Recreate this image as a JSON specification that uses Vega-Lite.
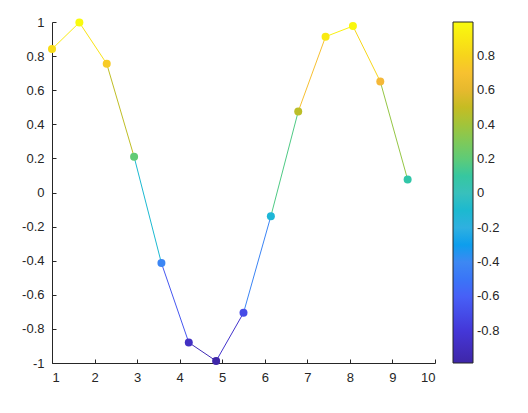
{
  "$schema": "https://vega.github.io/schema/vega-lite/v6.json",
  "width": 383,
  "height": 341,
  "autosize": {"type": "none"},
  "padding": {"left": 52, "top": 22, "right": 93, "bottom": 50},
  "config": {
    "view": {"stroke": null},
    "font": "Liberation Sans",
    "axis": {
      "grid": true,
      "gridColor": "#262626",
      "gridOpacity": 1,
      "gridWidth": 1,
      "ticks": false,
      "domainColor": "#262626",
      "labelColor": "#262626",
      "labelFontSize": 13,
      "labelFont": "Liberation Sans",
      "labelPadding": 8,
      "title": null
    },
    "axisX": {"gridDash": [0, 337, 4, 1000]},
    "axisY": {"gridDash": [4, 4000]}
  },
  "data": {
    "values": [
      {"x": 1.0, "y": 0.841},
      {"x": 1.643, "y": 0.997},
      {"x": 2.286, "y": 0.755},
      {"x": 2.929, "y": 0.21},
      {"x": 3.571, "y": -0.414},
      {"x": 4.214, "y": -0.88},
      {"x": 4.857, "y": -0.988},
      {"x": 5.5, "y": -0.706},
      {"x": 6.143, "y": -0.139},
      {"x": 6.786, "y": 0.475},
      {"x": 7.429, "y": 0.914},
      {"x": 8.071, "y": 0.976},
      {"x": 8.714, "y": 0.651},
      {"x": 9.357, "y": 0.076}
    ]
  },
  "encoding": {
    "x": {
      "field": "x",
      "type": "quantitative",
      "scale": {"domain": [1, 10], "nice": false, "zero": false},
      "axis": {"values": [1, 2, 3, 4, 5, 6, 7, 8, 9, 10]}
    },
    "y": {
      "field": "y",
      "type": "quantitative",
      "scale": {"domain": [-1, 1], "nice": false, "zero": false},
      "axis": {
        "values": [-1, -0.8, -0.6, -0.4, -0.2, 0, 0.2, 0.4, 0.6, 0.8, 1],
        "labelExpr": "'' + round(datum.value * 10) / 10"
      }
    }
  },
  "resolve": {"legend": {"color": "independent"}},
  "layer": [
    {
      "transform": [
        {
          "window": [
            {"op": "lead", "field": "x", "as": "x2"},
            {"op": "lead", "field": "y", "as": "y2"}
          ],
          "sort": [{"field": "x"}]
        },
        {"filter": "datum.x2 != null"},
        {"calculate": "(datum.y + datum.y2) / 2", "as": "ym"}
      ],
      "mark": {"type": "rule", "strokeWidth": 1},
      "encoding": {
        "x2": {"field": "x2"},
        "y2": {"field": "y2"},
        "color": {
          "field": "ym",
          "type": "quantitative",
          "title": null,
          "scale": {
            "domain": [-0.988, -0.8, -0.6, -0.4, -0.2, 0, 0.2, 0.4, 0.52, 0.65, 0.8, 0.997],
            "range": ["#3e26a8", "#4437d8", "#4760f7", "#3d88f3", "#2fb0e0", "#38c0bc", "#5ecb78", "#a2c43a", "#ccba20", "#f5b838", "#f7d41c", "#f9fb0e"]
          },
          "legend": {
            "type": "gradient",
            "orient": "none",
            "legendX": 401,
            "legendY": 0,
            "direction": "vertical",
            "gradientLength": 341,
            "gradientThickness": 20,
            "gradientStrokeColor": "#262626",
            "gradientStrokeWidth": 1,
            "values": [-0.8, -0.6, -0.4, -0.2, 0, 0.2, 0.4, 0.6, 0.8],
            "labelExpr": "'' + round(datum.value * 10) / 10",
            "labelFontSize": 13,
            "labelFont": "Liberation Sans",
            "labelColor": "#262626",
            "labelOffset": 4,
            "labelOverlap": false
          }
        }
      }
    },
    {
      "mark": {"type": "circle", "size": 64, "opacity": 1},
      "encoding": {
        "color": {
          "field": "y",
          "type": "quantitative",
          "title": null,
          "scale": {
            "domain": [-0.988, -0.8, -0.6, -0.4, -0.2, 0, 0.2, 0.4, 0.52, 0.65, 0.8, 0.997],
            "range": ["#3e26a8", "#4437d8", "#4760f7", "#3d88f3", "#2fb0e0", "#38c0bc", "#5ecb78", "#a2c43a", "#ccba20", "#f5b838", "#f7d41c", "#f9fb0e"]
          },
          "legend": null
        }
      }
    }
  ]
}
